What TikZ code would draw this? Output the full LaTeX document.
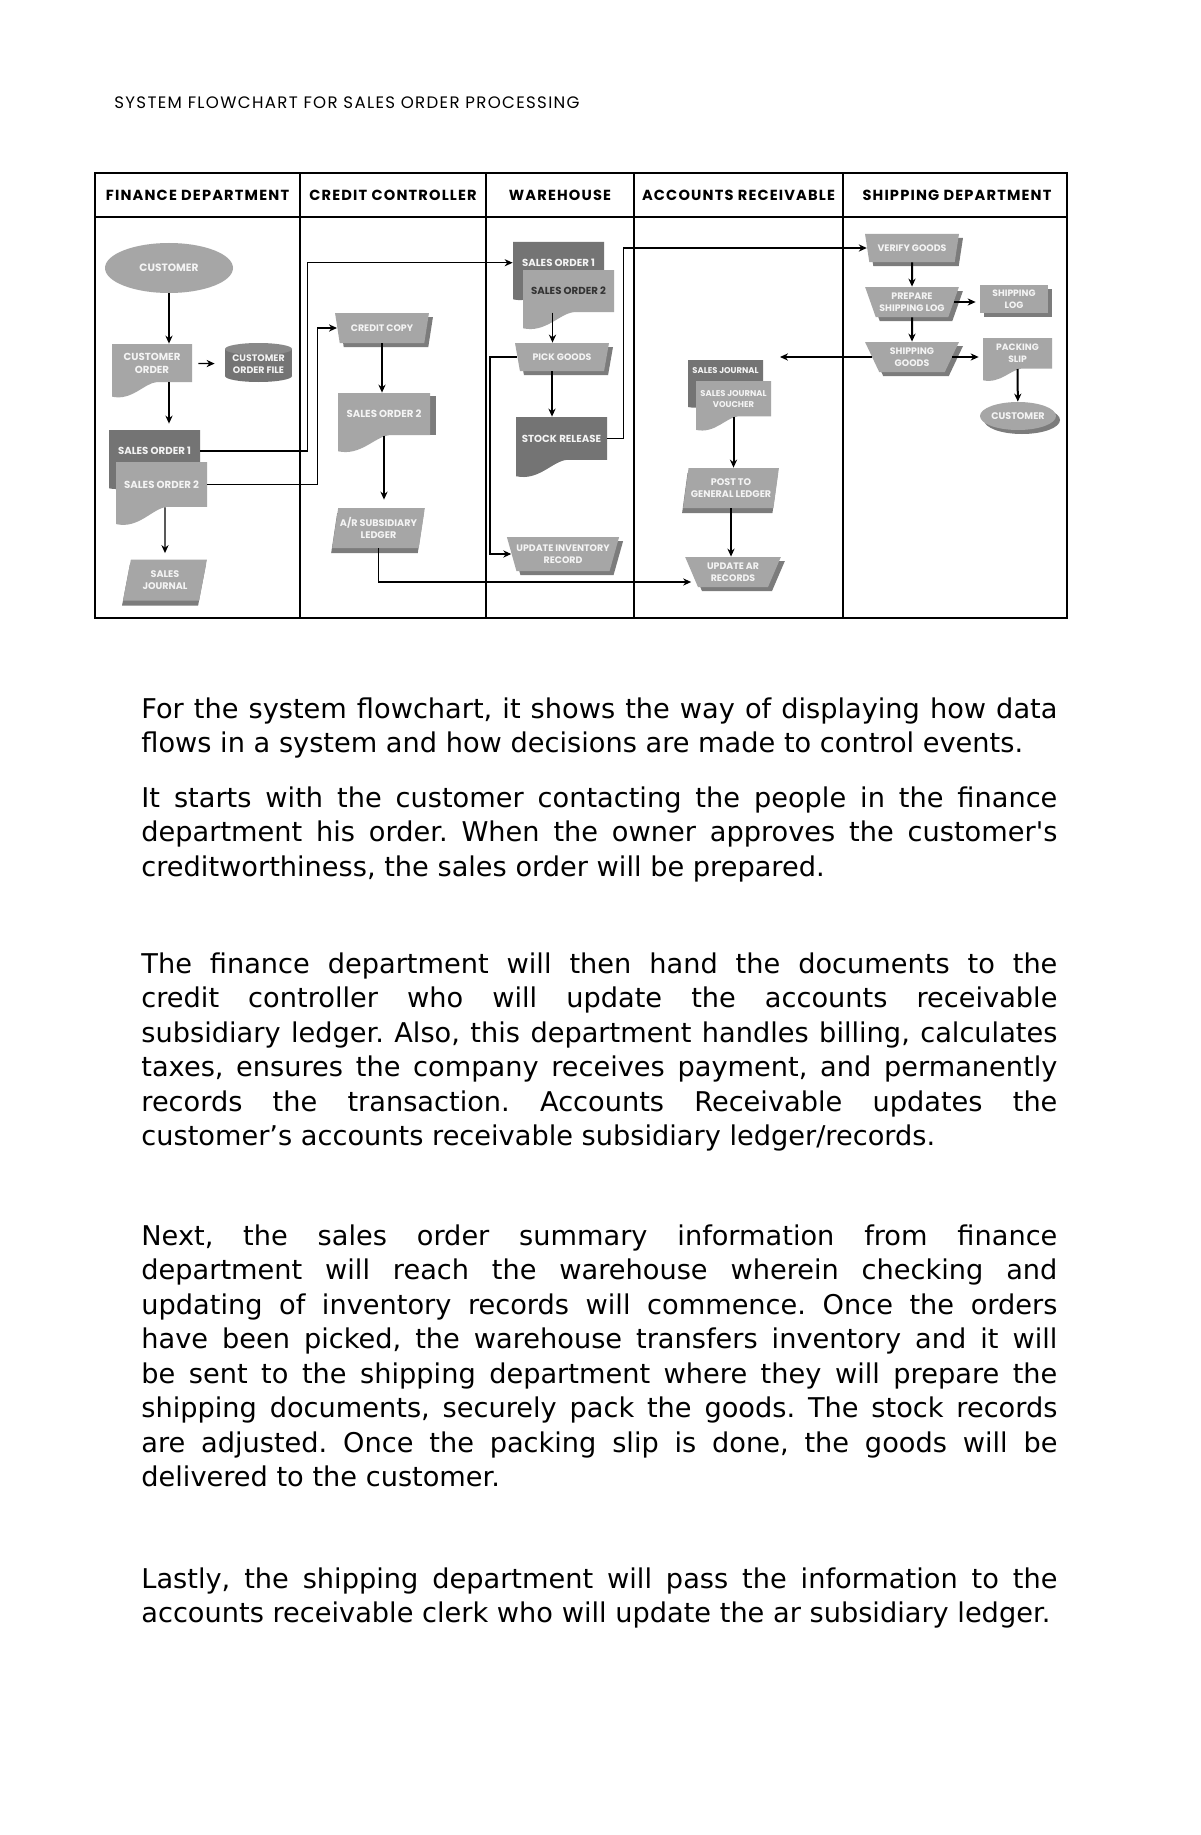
\documentclass[tikz,border=0pt]{standalone}
\usepackage{fontspec}
\usetikzlibrary{arrows.meta,shapes.geometric,shadows}
\newfontfamily\bodyfont{DejaVu Sans}[Ligatures=TeXOff]
\newfontfamily\headfont{Poppins}[LetterSpace=8]
\newfontfamily\boxfont{Poppins}
\definecolor{lightbox}{HTML}{A6A6A6}
\definecolor{darkbox}{HTML}{747474}
\definecolor{shadebox}{HTML}{7C7C7C}
\definecolor{labeltext}{HTML}{F4F4F4}
\setlength{\parindent}{0pt}
\frenchspacing
\hyphenpenalty=10000
\tolerance=10000

\newcommand{\flowdoc}[8][]{%
  \fill[#3] (#4,#5) -- ({#4+#6},#5) -- ({#4+#6},{#5+0.68*#7}) -- ({#4+0.56*#6},{#5+0.68*#7})
    .. controls ({#4+0.4*#6},{#5+0.7*#7}) and ({#4+0.25*#6},{#5+1.02*#7}) .. (#4,{#5+0.94*#7}) -- cycle;
  \node[lbl, minimum width=#6*0.5pt, minimum height=0.68*#7*0.5pt, #1] (#2) at ({#4+0.5*#6},{#5+0.34*#7}) {#8};
}

\begin{document}
\begin{tikzpicture}[x=0.5pt, y=-0.5pt, >={Stealth[length=4pt,width=3.6pt]},
  every node/.style={inner sep=0pt},
  lbl/.style={font=\boxfont\bfseries\fontsize{5.1}{6.4}\selectfont, text=labeltext, align=center},
  manop/.style={lbl, font=\boxfont\bfseries\fontsize{4.7}{6}\selectfont, trapezium, trapezium angle=63,
    shape border rotate=180, trapezium stretches=true,
    fill=lightbox, drop shadow={shadow xshift=2pt, shadow yshift=-2pt, fill=shadebox, opacity=1}},
  slant/.style={lbl, font=\boxfont\bfseries\fontsize{4.8}{6.2}\selectfont, trapezium, trapezium left angle=75,
    trapezium right angle=105, trapezium stretches=true,
    fill=lightbox, drop shadow={shadow xshift=-0.5pt, shadow yshift=-2.5pt, fill=shadebox, opacity=1}},
  term/.style={lbl, font=\boxfont\bfseries\fontsize{5.3}{6.4}\selectfont, ellipse, fill=lightbox},
  boxshadow/.style={drop shadow={shadow xshift=2pt, shadow yshift=-2pt, fill=shadebox, opacity=1}},
  head/.style={font=\headfont\bfseries\fontsize{7.3}{8.5}\selectfont},
  titletext/.style={font=\headfont\fontsize{8.3}{10}\selectfont},
  para/.style={font=\bodyfont\fontsize{13.6}{17.25}\selectfont, text width=458pt, align=justify, anchor=north west},
  lane/.style={line width=0.8pt},
  flow/.style={->, line width=0.6pt}]
\useasboundingbox[fill=white] (0,0) rectangle (1200,1835);

\node[titletext, anchor=west] (title) at (114,103) {SYSTEM FLOWCHART FOR SALES ORDER PROCESSING};

\draw[lane] (95,173) rectangle (1067,618);
\draw[lane] (95,217) -- (1067,217);
\foreach \x in {300,486,634,843}
  \draw[lane] (\x,173) -- (\x,618);

\node[head] (hfin) at (197.5,195) {FINANCE DEPARTMENT};
\node[head] (hcred) at (393,195) {CREDIT CONTROLLER};
\node[head] (hware) at (560,195) {WAREHOUSE};
\node[head] (hacc) at (738.5,195) {ACCOUNTS RECEIVABLE};
\node[head] (hship) at (957,195) {SHIPPING DEPARTMENT};

\node[term, minimum width=64pt, minimum height=25pt] (cust1) at (169,268) {CUSTOMER};
\flowdoc{custord}{lightbox}{112}{344}{80}{56}{CUSTOMER\\ORDER}
\fill[darkbox] (225,349) rectangle (292,376);
\fill[darkbox] (258.5,376) ellipse [x radius=33.5, y radius=6];
\fill[darkbox!85!white] (258.5,349) ellipse [x radius=33.5, y radius=6];
\node[lbl, font=\boxfont\bfseries\fontsize{4.7}{6}\selectfont, minimum width=33.5pt, minimum height=20pt] (custfile) at (258.5,364) {CUSTOMER\\ORDER FILE};
\flowdoc{so1fin}{darkbox}{109}{430}{91}{62}{SALES ORDER 1}
\flowdoc{so2fin}{lightbox}{116}{462}{91}{66}{SALES ORDER 2}
\node[slant, minimum width=42pt, minimum height=20.5pt] (sjfin) at (165,580) {SALES\\JOURNAL};

\node[manop, minimum width=47pt, minimum height=15pt] (crcopy) at (382,328) {CREDIT COPY};
\fill[shadebox] (430,396) rectangle (436,435);
\flowdoc{so2cr}{lightbox}{338}{393}{92}{62}{SALES ORDER 2}
\node[slant, minimum width=46.5pt, minimum height=20pt] (arledger) at (378.5,528) {A/R SUBSIDIARY\\LEDGER};

\flowdoc{so1wh}{darkbox}{513}{242}{91}{61}{SALES ORDER 1}
\flowdoc[text=black!80]{so2wh}{lightbox}{523}{270}{91}{62}{SALES ORDER 2}
\node[manop, minimum width=47pt, minimum height=14pt] (pick) at (562,357) {PICK GOODS};
\flowdoc{stockrel}{darkbox}{516}{417}{91}{63}{STOCK RELEASE}
\node[manop, minimum width=54pt, minimum height=17pt] (updinv) at (563,554) {UPDATE INVENTORY\\RECORD};

\flowdoc[yshift=3pt, font=\boxfont\bfseries\fontsize{4.2}{5.6}\selectfont]{sjar}{darkbox}{688}{360}{75}{50}{SALES JOURNAL}
\flowdoc[font=\boxfont\bfseries\fontsize{4.2}{5.6}\selectfont]{sjvou}{lightbox}{696}{381}{75}{52}{SALES JOURNAL\\VOUCHER}
\node[slant, minimum width=48pt, minimum height=20pt] (postgl) at (731,488) {POST TO\\GENERAL LEDGER};
\node[manop, minimum width=48pt, minimum height=15pt] (updar) at (733,572) {UPDATE AR\\RECORDS};
\coordinate (arin) at (780,357);

\node[manop, minimum width=47pt, minimum height=14pt] (verify) at (912,248) {VERIFY GOODS};
\node[manop, minimum width=47pt, minimum height=15pt] (prepare) at (912,302) {PREPARE\\SHIPPING LOG};
\node[lbl, font=\boxfont\bfseries\fontsize{4.6}{6}\selectfont, fill=lightbox, boxshadow, minimum width=34pt, minimum height=14pt] (shiplog) at (1014,299) {SHIPPING\\LOG};
\node[manop, minimum width=47pt, minimum height=15pt] (shipgoods) at (912,357) {SHIPPING\\GOODS};
\flowdoc[font=\boxfont\bfseries\fontsize{4.6}{6}\selectfont]{packslip}{lightbox}{983}{338}{69}{45}{PACKING\\SLIP}
\node[term, font=\boxfont\bfseries\fontsize{4.8}{6}\selectfont, boxshadow, minimum width=38pt, minimum height=14pt] (cust2) at (1018,416) {CUSTOMER};

\draw[flow] (cust1) -- (cust1 |- custord.north);
\draw[flow, shorten <=3pt, shorten >=5pt] (custord) -- (custfile);
\draw[flow, shorten >=3pt] (custord.south -| cust1) -- (so1fin.north -| cust1);
\draw[flow] (so1fin.east) -- ++(107,0) |- (so1wh.west);
\draw[flow] (so2fin.east) -- ++(110,0) |- (crcopy.west);
\draw[flow, shorten >=3pt] (so2fin.south -| sjfin) -- (sjfin.north);
\draw[flow] (crcopy.south) -- (crcopy.south |- so2cr.north);
\draw[flow, shorten >=4pt] (so2cr.south) -- (so2cr.south |- arledger.north);
\draw[flow] (arledger.south) |- ([yshift=-5pt]updar.west);
\draw[flow] ([xshift=-8pt]so2wh.south) -- ([xshift=-8pt]so2wh.south |- pick.north);
\draw[flow, line width=1pt] ([xshift=-5pt]pick.south) -- ([xshift=-5pt]pick.south |- stockrel.north);
\draw[flow] (pick.west) -- ++(-27,0) |- (updinv.west);
\draw[flow] (stockrel.east) -- ++(16,0) |- (verify.west);
\draw[flow, line width=1pt] (verify) -- (prepare);
\draw[flow, line width=1pt] (prepare) -- (shipgoods);
\draw[flow, shorten >=2pt] (prepare.east) -- (prepare.east -| shiplog.west);
\draw[flow, shorten >=2pt] (shipgoods.east) -- (shipgoods.east -| packslip.west);
\draw[flow, line width=1pt] (packslip.south) -- (cust2);
\draw[flow] (shipgoods.west) -- (shipgoods.west -| arin);
\draw[flow, line width=1pt] (sjvou.south) -- (sjvou.south |- postgl.north);
\draw[flow, line width=1pt] (postgl.south) -- (postgl.south |- updar.north);

\node[para] (p1) at (141,697) {For the system flowchart, it shows the way of displaying how data\linebreak
flows in a system and how decisions are made to control events.};
\node[para] (p2) at (141,786) {It starts with the customer contacting the people in the finance\linebreak
department his order. When the owner approves the customer's\linebreak
creditworthiness, the sales order will be prepared.};
\node[para] (p3) at (141,952) {The finance department will then hand the documents to the\linebreak
credit controller who will update the accounts receivable\linebreak
subsidiary ledger. Also, this department handles billing, calculates\linebreak
taxes, ensures the company receives payment, and permanently\linebreak
records the transaction. Accounts Receivable updates the\linebreak
customer’s accounts receivable subsidiary ledger/records.};
\node[para] (p4) at (141,1224) {Next, the sales order summary information from finance\linebreak
department will reach the warehouse wherein checking and\linebreak
updating of inventory records will commence. Once the orders\linebreak
have been picked, the warehouse transfers inventory and it will\linebreak
be sent to the shipping department where they will prepare the\linebreak
shipping documents, securely pack the goods. The stock records\linebreak
are adjusted. Once the packing slip is done, the goods will be\linebreak
delivered to the customer.};
\node[para] (p5) at (141,1567) {Lastly, the shipping department will pass the information to the\linebreak
accounts receivable clerk who will update the ar subsidiary ledger.};
\end{tikzpicture}
\end{document}
